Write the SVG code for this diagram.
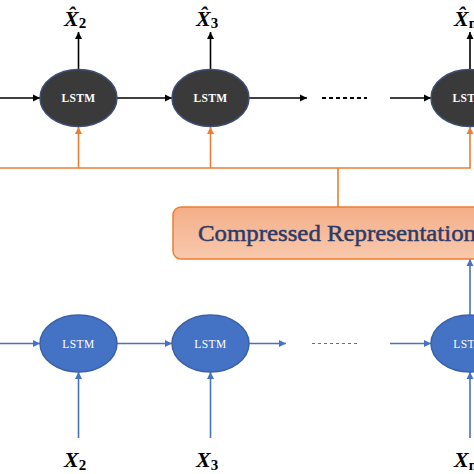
<svg xmlns="http://www.w3.org/2000/svg" width="474" height="474" viewBox="0 0 474 474">
<style>
.blk{stroke:#000;stroke-width:1.6;fill:none}
.org{stroke:#ed7d31;stroke-width:1.6;fill:none}
.blu{stroke:#4472c4;stroke-width:1.6;fill:none}
.dark{fill:#3a3a3a;stroke:#3e4f78;stroke-width:1.5}
.blue{fill:#4472c4;stroke:#3b62a8;stroke-width:1.5}
.lt{font-family:"Liberation Serif",serif;font-size:11.5px;fill:#fff;text-anchor:middle;letter-spacing:0.4px}
.xl{font-family:"Liberation Serif",serif;font-weight:bold;font-style:italic;font-size:22px;fill:#000}
.sub{font-size:15px;font-style:normal}
.box{font-family:"Liberation Serif",serif;font-size:24px;fill:#2c3b68;stroke:#2c3b68;stroke-width:0.5}
</style>
<defs>
<marker id="ak" markerWidth="8" markerHeight="8" refX="7" refY="4" orient="auto" markerUnits="userSpaceOnUse"><path d="M0,0.5 L7,4 L0,7.5 z" fill="#000"/></marker>
<marker id="ao" markerWidth="8" markerHeight="8" refX="7" refY="4" orient="auto" markerUnits="userSpaceOnUse"><path d="M0,0.5 L7,4 L0,7.5 z" fill="#ed7d31"/></marker>
<marker id="ab" markerWidth="8" markerHeight="8" refX="7" refY="4" orient="auto" markerUnits="userSpaceOnUse"><path d="M0,0.5 L7,4 L0,7.5 z" fill="#4472c4"/></marker>
<linearGradient id="g" x1="0" y1="0" x2="0" y2="1"><stop offset="0" stop-color="#f4ae88"/><stop offset="1" stop-color="#f8c9ad"/></linearGradient>
</defs>
<g id="connectors">
<line class="blk" x1="0" y1="98" x2="40" y2="98" marker-end="url(#ak)"/>
<line class="blk" x1="117" y1="98" x2="172" y2="98" marker-end="url(#ak)"/>
<line class="blk" x1="249" y1="98" x2="307" y2="98" marker-end="url(#ak)"/>
<line x1="322" y1="98" x2="367" y2="98" stroke="#000" stroke-width="1.8" stroke-dasharray="4,3"/>
<line class="blk" x1="390" y1="98" x2="431" y2="98" marker-end="url(#ak)"/>
<line class="blk" x1="78.5" y1="70" x2="78.5" y2="32" marker-end="url(#ak)"/>
<line class="blk" x1="210.5" y1="70" x2="210.5" y2="32" marker-end="url(#ak)"/>
<line class="blk" x1="470" y1="70" x2="470" y2="32" marker-end="url(#ak)"/>
<line class="org" x1="0" y1="168" x2="470.8" y2="168"/>
<line class="org" x1="78.5" y1="168" x2="78.5" y2="127" marker-end="url(#ao)"/>
<line class="org" x1="210.5" y1="168" x2="210.5" y2="127" marker-end="url(#ao)"/>
<line class="org" x1="470" y1="168" x2="470" y2="127" marker-end="url(#ao)"/>
<line class="org" x1="338" y1="168" x2="338" y2="207"/>
<line class="blu" x1="470" y1="315" x2="470" y2="259" marker-end="url(#ab)"/>
<line class="blu" x1="0" y1="343.5" x2="40" y2="343.5" marker-end="url(#ab)"/>
<line class="blu" x1="117" y1="343.5" x2="172" y2="343.5" marker-end="url(#ab)"/>
<line class="blu" x1="249" y1="343.5" x2="286" y2="343.5" marker-end="url(#ab)"/>
<line x1="312" y1="343.5" x2="357" y2="343.5" stroke="#4472c4" stroke-width="1.2" stroke-dasharray="3,3"/>
<line class="blu" x1="390" y1="343.5" x2="431" y2="343.5" marker-end="url(#ab)"/>
<line class="blu" x1="78.5" y1="438" x2="78.5" y2="372" marker-end="url(#ab)"/>
<line class="blu" x1="210.5" y1="438" x2="210.5" y2="372" marker-end="url(#ab)"/>
<line class="blu" x1="470" y1="438" x2="470" y2="372" marker-end="url(#ab)"/>
</g>
<g id="dec1"><ellipse class="dark" cx="78.5" cy="98" rx="38.5" ry="28.5"/><text class="lt" x="78.5" y="102" font-weight="bold">LSTM</text></g>
<g id="dec2"><ellipse class="dark" cx="210.5" cy="98" rx="38.5" ry="28.5"/><text class="lt" x="210.5" y="102" font-weight="bold">LSTM</text></g>
<g id="dec3"><ellipse class="dark" cx="469.5" cy="98" rx="38.5" ry="28.5"/><text class="lt" x="469.5" y="102" font-weight="bold">LSTM</text></g>
<g id="enc1"><ellipse class="blue" cx="78.5" cy="343.5" rx="38.5" ry="28.5"/><text class="lt" x="78.5" y="347.5">LSTM</text></g>
<g id="enc2"><ellipse class="blue" cx="210.5" cy="343.5" rx="38.5" ry="28.5"/><text class="lt" x="210.5" y="347.5">LSTM</text></g>
<g id="enc3"><ellipse class="blue" cx="469.5" cy="343.5" rx="38.5" ry="28.5"/><text class="lt" x="469.5" y="347.5">LSTM</text></g>
<g id="compressed">
<rect x="173" y="207" width="320" height="52" rx="8" fill="url(#g)" stroke="#ed7d31" stroke-width="1.5"/>
<text class="box" x="198" y="241" textLength="278" lengthAdjust="spacingAndGlyphs">Compressed Representation</text>
</g>
<g id="out-labels">
<text class="xl" x="64" y="26">X̂<tspan class="sub" dy="2">2</tspan></text>
<text class="xl" x="196" y="26">X̂<tspan class="sub" dy="2">3</tspan></text>
<text class="xl" x="454" y="26">X̂<tspan class="sub" dy="2">n</tspan></text>
</g>
<g id="in-labels">
<text class="xl" x="64" y="467">X<tspan class="sub" dy="3">2</tspan></text>
<text class="xl" x="196" y="467">X<tspan class="sub" dy="3">3</tspan></text>
<text class="xl" x="454" y="467">X<tspan class="sub" dy="3">n</tspan></text>
</g>
</svg>
